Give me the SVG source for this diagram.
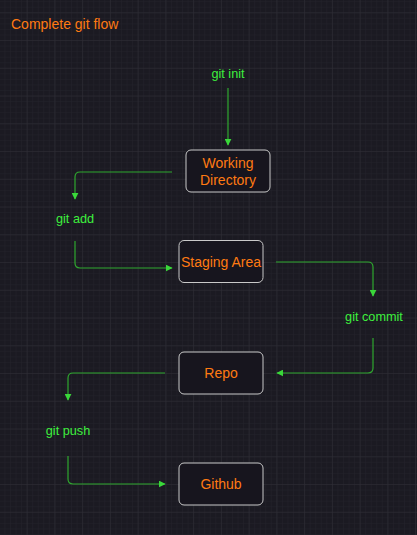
<svg xmlns="http://www.w3.org/2000/svg" width="417" height="535" viewBox="0 0 417 535">
<style>
.node rect{fill:#17151e;stroke:#c9c9c9;stroke-width:1}
.node text{fill:#ff7a12;font-family:"Liberation Sans",Arial,sans-serif;font-size:14px;text-anchor:middle}
.lbl{fill:#3ef03e;font-family:"Liberation Sans",Arial,sans-serif;font-size:12.7px;text-anchor:middle}
.edge{fill:none;stroke:#2fa82f;stroke-width:1.2;marker-end:url(#ah)}
</style>
<defs>
<pattern id="minor" x="-1.1" y="12.3" width="5.55" height="5.55" patternUnits="userSpaceOnUse">
<path d="M0 0H5.55M0 0V5.55" fill="none" stroke="#24232b" stroke-width="1"/>
</pattern>
<pattern id="major" x="-1.1" y="12.3" width="27.75" height="27.75" patternUnits="userSpaceOnUse">
<path d="M0 0H27.75M0 0V27.75" fill="none" stroke="#2f2e36" stroke-width="1"/>
</pattern>
<marker id="ah" viewBox="0 0 10 10" refX="9" refY="5" markerWidth="7" markerHeight="7" markerUnits="userSpaceOnUse" orient="auto">
<path d="M0 0L10 5L0 10z" fill="#3ad83a"/>
</marker>
</defs>
<rect width="417" height="535" fill="#1b1a22"/>
<rect width="417" height="535" fill="url(#minor)"/>
<rect width="417" height="535" fill="url(#major)"/>
<text x="11" y="29" fill="#ff7a12" font-family="'Liberation Sans',Arial,sans-serif" font-size="14">Complete git flow</text>
<g id="connectors">
<path class="edge" d="M228 88V145"/>
<path class="edge" d="M172 172H80Q75 172 75 177V199"/>
<path class="edge" d="M75 241V263Q75 268 80 268H172"/>
<path class="edge" d="M276 262H368Q373 262 373 267V296"/>
<path class="edge" d="M373 338V368Q373 373 368 373H277"/>
<path class="edge" d="M165 373H73Q68 373 68 378V400"/>
<path class="edge" d="M68 456V479Q68 484 73 484H165"/>
</g>
<g id="lbl-init"><text class="lbl" x="228" y="77.5">git init</text></g>
<g id="lbl-add"><text class="lbl" x="75" y="222.5">git add</text></g>
<g id="lbl-commit"><text class="lbl" x="374" y="320.5">git commit</text></g>
<g id="lbl-push"><text class="lbl" x="68" y="434.5">git push</text></g>
<g id="working" class="node"><rect x="186" y="150" width="84" height="42" rx="5"/><text x="228" y="168">Working</text><text x="228" y="185">Directory</text></g>
<g id="staging" class="node"><rect x="179" y="240.5" width="84" height="42" rx="5"/><text x="221" y="266.5">Staging Area</text></g>
<g id="repo" class="node"><rect x="179" y="352" width="84" height="42" rx="5"/><text x="221" y="378">Repo</text></g>
<g id="github" class="node"><rect x="179" y="463" width="84" height="42" rx="5"/><text x="221" y="489">Github</text></g>
</svg>
